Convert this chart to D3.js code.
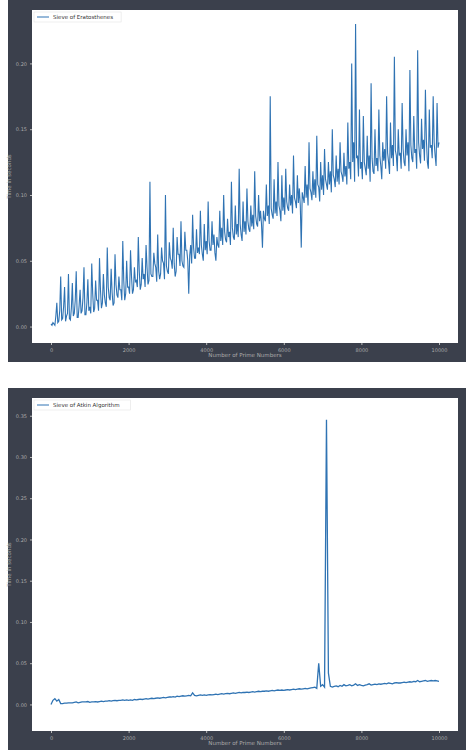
<!DOCTYPE html><html><head><meta charset="utf-8"><script src="https://cdn.jsdelivr.net/npm/d3@7"></script>
<style>body{margin:0;background:#fff}svg{display:block}text{font-family:"DejaVu Sans",sans-serif}</style></head><body>
<svg id="c" width="474" height="756"></svg>
<script>
const xStep=50;
// values at x = 0, 50, 100, ... (ms)
const eratosthenes=[2,3,1,18,4,38,6,30,8,40,5,33,10,42,7,28,12,45,9,36,
15,48,11,35,20,52,14,40,18,60,22,44,16,55,24,38,28,65,20,50,
30,58,25,45,35,68,28,52,40,62,32,110,38,56,45,70,36,60,48,100,
42,64,50,75,38,68,55,80,46,72,58,25,62,85,52,74,60,88,55,78,
65,95,58,80,70,50,62,88,75,100,66,82,72,110,68,92,78,120,70,95,
80,105,74,92,85,118,78,100,88,60,82,108,92,175,85,112,95,125,88,115,
98,120,90,108,100,130,95,115,105,60,98,122,108,140,102,118,112,145,106,125,
115,135,108,125,118,150,112,130,120,140,115,132,122,155,125,200,140,230,130,165,
125,160,120,145,130,185,118,150,128,165,122,140,135,175,125,155,138,205,130,150,
132,170,125,150,140,195,128,160,135,210,130,158,142,180,125,165,138,175,130,170,140];
// values at x = 25, 75, 125, ... (ms)
const eratosthenesMid=[1,2,8,3,12,5,15,4,10,6,14,8,20,7,16,10,22,9,18,12,
10,25,14,20,12,28,18,24,15,30,20,26,18,32,22,28,20,35,25,30,
25,38,28,34,30,42,32,36,30,45,35,40,38,48,34,42,40,50,36,46,
40,52,44,48,42,55,46,50,45,58,50,54,48,60,52,56,55,62,50,58,
55,65,58,62,56,68,60,65,62,72,64,68,62,75,66,70,68,78,65,72,
70,80,72,76,74,84,76,80,78,88,80,84,78,90,82,86,84,92,80,88,
85,95,88,92,86,98,90,94,92,102,94,98,92,105,96,100,98,108,95,104,
100,112,104,108,102,115,106,110,108,118,110,114,108,120,112,125,110,128,114,120,
112,125,115,120,110,128,116,122,118,130,112,126,120,132,116,128,122,134,118,130,
120,135,122,130,118,138,125,132,120,140,124,135,126,142,120,136,128,140,122,136];
const atkin=[0,5,7,4,6,1,1,1.5,1.5,2,2,2,2.5,3,2,2.5,3,3,3,3.5,
2.5,3,3,3.5,3,3.5,4,3.5,4,4,4.5,4,4.5,5,4.5,5,5,5.5,5,5.5,
5,5.5,5,6,5.5,6,6.5,6,6.5,7,6.5,7,7.5,7,7.5,8,7.5,8,8.5,8,
8.5,9,9,9.5,9,10,9.5,10,10.5,10,10.5,11,10.5,14,11,10.5,11,11.5,11,11.5,
11,11.5,12,11.5,12,12.5,12,12.5,13,12.5,13,13.5,13,13.5,14,13.5,14,14.5,14,14.5,
14.5,15,14.5,15,15.5,15,15.5,16,15.5,16,16,16.5,16,16.5,17,16.5,17,17.5,17,17.5,
17,17.5,18,17.5,18,18.5,18,18.5,19,18.5,19,19.5,19,19.5,20,20.5,21,19.5,50,22,
24,21,345,38,22,21,22,22.5,21.5,23,22,24,22.5,23,24,22.5,23.5,25,23,24,
23,22.5,23.5,24,25,23.5,24,24.5,24,25,24.5,25,25.5,25,26,25.5,25,26,26.5,26,
26,26.5,27,26.5,27,27.5,27,28,27.5,29,27.5,28,28.5,29,28,28.5,29,28.5,29,28.5,28];
const xTicks=[0,2000,4000,6000,8000,10000];
const yTicksTop=[0,0.05,0.10,0.15,0.20];
const yTicksBot=[0,0.05,0.10,0.15,0.20,0.25,0.30,0.35];
const svg=d3.select("#c");
const topPts=[];
eratosthenes.forEach((v,i)=>{topPts.push([i*xStep,v]);if(i<eratosthenesMid.length)topPts.push([i*xStep+xStep/2,eratosthenesMid[i]]);});
const botPts=atkin.map((v,i)=>[i*xStep,v]);
function panel(oy,data,yDom,yTicks,name,sw){
  const g=svg.append("g").attr("transform",`translate(0,${oy})`);
  g.append("rect").attr("x",8).attr("y",0).attr("width",458).attr("height",362).attr("fill","#3b404c");
  const L=32,R=458,T=10,B=343;
  g.append("rect").attr("x",L).attr("y",T).attr("width",R-L).attr("height",B-T).attr("fill","#fff");
  const x=d3.scaleLinear().domain([0,10000]).range([51,439]);
  const y=d3.scaleLinear().domain(yDom).range([B,T]);
  const ax=g.append("g").attr("transform",`translate(0,${B})`).call(d3.axisBottom(x).tickValues(xTicks).tickSize(2).tickFormat(d3.format("d")));
  const ay=g.append("g").attr("transform",`translate(${L},0)`).call(d3.axisLeft(y).tickValues(yTicks).tickSize(2).tickFormat(d3.format(".2f")));
  [ax,ay].forEach(a=>{a.select(".domain").remove();a.selectAll("line").attr("stroke","#bbb");a.selectAll("text").attr("fill","#aaa").attr("font-size",5);});
  g.append("text").attr("x",245).attr("y",B+14).attr("text-anchor","middle").attr("font-size",5.5).attr("fill","#aaa").text("Number of Prime Numbers");
  g.append("text").attr("transform",`translate(11,${(T+B)/2}) rotate(-90)`).attr("text-anchor","middle").attr("font-size",5.5).attr("fill","#aaa").text("Time in seconds");
  const line=d3.line().x(d=>x(d[0])).y(d=>y(d[1]/1000));
  g.append("path").datum(data).attr("d",line).attr("fill","none").attr("stroke","#2f73b3").attr("stroke-width",sw);
  const lg=g.append("g").attr("transform",`translate(${L+2},${T+2})`);
  const tw=name.length*3.1+22;
  lg.append("rect").attr("width",tw).attr("height",10).attr("fill","#fff").attr("stroke","#ddd").attr("stroke-width",0.5);
  lg.append("line").attr("x1",3).attr("x2",15).attr("y1",5).attr("y2",5).attr("stroke","#2f73b3").attr("stroke-width",1);
  lg.append("text").attr("x",19).attr("y",7).attr("font-size",5.5).attr("fill","#333").text(name);
}
panel(0,topPts,[-0.0125,0.2406],yTicksTop,"Sieve of Eratosthenes",1.1);
panel(388,botPts,[-0.0322,0.3715],yTicksBot,"Sieve of Atkin Algorithm",1.3);
</script></body></html>
